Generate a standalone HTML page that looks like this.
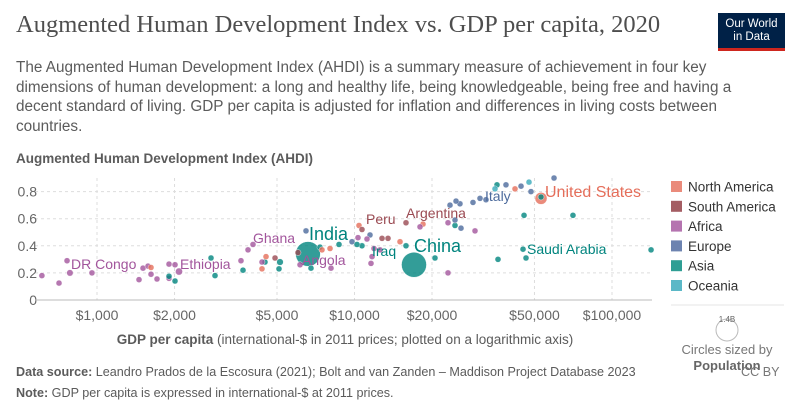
<!DOCTYPE html>
<html><head><meta charset="utf-8">
<style>
body{margin:0;background:#fff;width:800px;height:418px;overflow:hidden;font-family:"Liberation Sans",sans-serif;}
#wrap{position:relative;width:800px;height:418px;}
.title{position:absolute;left:16px;top:11px;font-family:"Liberation Serif",serif;font-size:24.5px;color:#4e4e4e;white-space:nowrap;}
.sub{position:absolute;left:16px;top:58px;width:780px;font-size:15.3px;line-height:19.6px;color:#5b5b5b;white-space:nowrap;}
.logo{position:absolute;left:718px;top:13px;width:67px;height:38px;background:#002147;color:#fff;font-size:11.5px;line-height:13px;text-align:center;box-sizing:border-box;padding-top:5px;border-bottom:3px solid #ce261e;}
.foot{position:absolute;left:16px;font-size:12.6px;color:#5b5b5b;white-space:nowrap;}
</style></head><body>
<div id="wrap">
<div class="title">Augmented Human Development Index vs. GDP per capita, 2020</div>
<div class="logo">Our World<br>in Data</div>
<div class="sub">The Augmented Human Development Index (AHDI) is a summary measure of achievement in four key<br>dimensions of human development: a long and healthy life, being knowledgeable, being free and having a<br>decent standard of living. GDP per capita is adjusted for inflation and differences in living costs between<br>countries.</div>
<svg id="chart" width="800" height="418" style="position:absolute;left:0;top:0"></svg>
<div class="foot" style="top:365px"><b>Data source:</b> Leandro Prados de la Escosura (2021); Bolt and van Zanden – Maddison Project Database 2023</div>
<div class="foot" style="top:386px"><b>Note:</b> GDP per capita is expressed in international-$ at 2011 prices.</div>
<div class="foot" style="top:365px;left:741px;color:#777">CC BY</div>
</div>
<script>
const regions=["North America","South America","Africa","Europe","Asia","Oceania"];
const regionColors=["#e56e5a","#9a4a52","#a2559c","#4c6a9c","#00847e","#38aaba"];
const legendColors=["#ea8b7b","#a45d63","#b574b0","#6d83b0","#2f9e94","#5bb8c7"];
const xTicks=[1000,2000,5000,10000,20000,50000,100000];
const xTickLabels=["$1,000","$2,000","$5,000","$10,000","$20,000","$50,000","$100,000"];
const yTicks=[0,0.2,0.4,0.6,0.8];
const yTickLabels=["0","0.2","0.4","0.6","0.8"];
// country points: gdp, ahdi, region index, population (millions)
const gdp=[611,712,765,785,956,1456,1509,1578,1621,1621,1710,1904,1904,1904,2009,2082,2009,2772,2873,3624,3690,3859,4035,4373,4373,4492,4533,4913,5137,5091,6481,6034,6597,6144,6777,7478,7345,8034,8105,8707,9779,10318,10226,10411,10693,11487,10693,11904,11182,12790,13494,15024,15849,17023,12560,11700,11590,23075,15849,18450,17965,23075,24565,24565,25920,29376,23490,25680,24790,30720,32410,28850,35760,35130,38750,44330,42010,47610,48460,53010,53010,59550,45540,70540,45130,46350,36080,141800,20540];
const ahdi=[0.18,0.125,0.29,0.2,0.2,0.15,0.235,0.25,0.24,0.19,0.155,0.265,0.16,0.175,0.26,0.21,0.14,0.31,0.18,0.29,0.22,0.37,0.41,0.28,0.23,0.28,0.32,0.31,0.28,0.23,0.51,0.35,0.34,0.26,0.235,0.37,0.39,0.38,0.235,0.41,0.43,0.46,0.41,0.55,0.52,0.48,0.4,0.38,0.45,0.455,0.455,0.43,0.4,0.26,0.37,0.32,0.27,0.2,0.57,0.56,0.54,0.57,0.55,0.59,0.53,0.51,0.7,0.71,0.73,0.75,0.74,0.72,0.85,0.82,0.85,0.84,0.82,0.87,0.8,0.76,0.75,0.9,0.625,0.625,0.375,0.31,0.3,0.37,0.31];
const region=[2,2,2,2,2,2,2,2,0,2,2,2,2,4,2,2,4,4,4,2,4,2,2,2,0,4,0,1,4,4,3,1,4,2,4,0,4,0,2,4,3,2,4,0,1,3,4,2,2,1,1,0,4,4,2,2,2,2,1,0,2,2,4,3,3,2,3,3,3,3,3,3,4,5,3,3,0,5,3,4,0,3,4,4,4,4,4,4,4];
const pop=[5,5,5,95,5,5,5,5,5,5,5,5,5,5,5,115,5,30,5,5,5,5,30,5,5,80,5,60,100,5,5,30,1380,5,5,5,40,5,5,5,5,5,5,5,5,5,40,5,5,45,60,30,5,1410,5,5,5,5,5,5,5,5,5,5,5,5,5,5,5,5,5,5,60,20,5,60,5,5,5,5,330,5,5,5,5,5,5,5,5];

const svg=document.getElementById('chart');
const NS='http://www.w3.org/2000/svg';
const X0=35,X1=652,Y0=300;
function xs(v){return 97+257.5*Math.log10(v/1000);}
function ys(v){return Y0-135.5*v;}
function rs(p){return Math.max(3,Math.sqrt(p/1410)*12.5);}
function mk(tag,attrs,txt){const e=document.createElementNS(NS,tag);for(const k in attrs)e.setAttribute(k,attrs[k]);if(txt!==undefined)e.textContent=txt;svg.appendChild(e);return e;}

let t=mk('text',{x:16,y:163,'font-size':13.5,'font-weight':'bold',fill:'#5b5b5b'},'Augmented Human Development Index (AHDI)');


yTicks.forEach((v,i)=>{
  if(v>0){const g=mk('line',{x1:X0,x2:X1,y1:ys(v),y2:ys(v),stroke:'#ddd','stroke-dasharray':'3,3'});
  
  }
  const l=mk('text',{x:37,y:ys(v)+5,'font-size':14,fill:'#666','text-anchor':'end'},yTickLabels[i]);
  
  
});
xTicks.forEach((v,i)=>{
  const g=mk('line',{x1:xs(v),x2:xs(v),y1:178,y2:Y0,stroke:'#ddd','stroke-dasharray':'3,3'});
  
  
  const l=mk('text',{x:xs(v),y:320,'font-size':14,fill:'#666','text-anchor':'middle'},xTickLabels[i]);
  
  
});
let ax=mk('line',{x1:X0,x2:X1,y1:Y0,y2:Y0,stroke:'#bbb'});


t=mk('text',{x:345,y:344,'font-size':13.5,fill:'#5b5b5b','text-anchor':'middle'});
t.innerHTML='<tspan font-weight="bold">GDP per capita</tspan> (international-$ in 2011 prices; plotted on a logarithmic axis)';



const idx=gdp.map((_,i)=>i).sort((a,b)=>pop[b]-pop[a]);
idx.forEach(i=>{
  const c=mk('circle',{cx:xs(gdp[i]),cy:ys(ahdi[i]),r:rs(pop[i]),fill:regionColors[region[i]],'fill-opacity':0.8,stroke:'#fff','stroke-width':0.4});
  
  
});

const labels=[["DR Congo",71,269,14,2],["Ethiopia",180,269,14,2],["Ghana",253,243,14,2],["India",309,240,18,4],["Angola",302,265,14,2],["Peru",366,224,14,1],["Argentina",406,218,14,1],["Italy",485,201,14,3],["United States",545,197,16,0],["Iraq",372,256,14,4],["China",414,252,18,4],["Saudi Arabia",527,254,14,4]];
labels.forEach(l=>{
  const e=mk('text',{x:l[1],y:l[2],'font-size':l[3],fill:regionColors[l[4]]},l[0]);
  
  
});

regions.forEach((r,i)=>{
  const y=181+i*19.8;
  const s=mk('rect',{x:671,y:y,width:11,height:11,fill:legendColors[i]});
  
  
  const e=mk('text',{x:688,y:y+10.5,'font-size':13.5,fill:'#333'},r);
  
  
});
let sep=mk('line',{x1:671,x2:784,y1:305,y2:305,stroke:'#eee','stroke-width':1.5});


let sc=mk('circle',{cx:727,cy:330,r:11,fill:'none',stroke:'#bbb','stroke-width':1});


t=mk('text',{x:727,y:322,'font-size':8,fill:'#666','text-anchor':'middle'},'1.4B');


t=mk('text',{x:727,y:354,'font-size':13,fill:'#777','text-anchor':'middle'},'Circles sized by');


t=mk('text',{x:727,y:370,'font-size':13,'font-weight':'bold',fill:'#666','text-anchor':'middle'},'Population');


</script>
</body></html>
